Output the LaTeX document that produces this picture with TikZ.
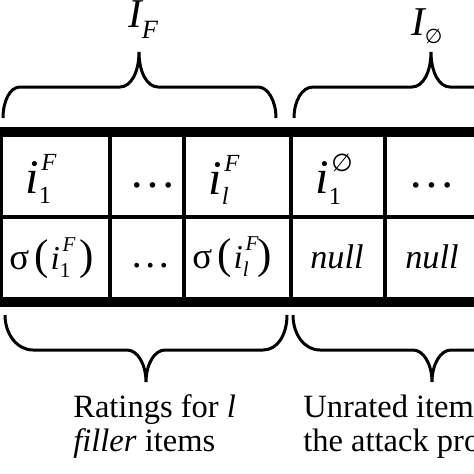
\documentclass[tikz,border=0pt]{standalone}
\usepackage{fontspec}
\setmainfont{Liberation Serif}
\newfontfamily\nullsetfont{DejaVu Sans}
\usepackage{tikz}

\newcommand{\fs}[1]{\fontsize{#1}{1.15\dimexpr#1\relax}\selectfont}
% item symbol: size of i, size of scripts, raise, lower, sup, sub
\newcommand{\isym}[6]{{\fs{#1}\textit{i}}\makebox[0pt][l]{\kern1.5pt\raisebox{#3}{\fs{#2}#5}}\raisebox{-#4}{\fs{#2}#6}}
% rating symbol
\newcommand{\rsym}[1]{{\fs{21pt}σ}\kern3pt{\fs{24.5pt}(}\kern1pt\isym{19pt}{12pt}{10pt}{5pt}{\textit{F}}{#1}\kern5pt{\fs{24.5pt})}}

\begin{document}
\begin{tikzpicture}[x=0.02cm, y=-0.02cm,
  bar/.style={line width=0.2cm},
  rule/.style={line width=0.08cm},
  brc/.style={line width=0.06cm},
  lbl/.style={inner sep=0pt, anchor=base west},
  note/.style={lbl, align=left, font=\fontsize{18.5pt}{19pt}\selectfont}]
\useasboundingbox (0,0) rectangle (474,474);
\clip (0,0) rectangle (474,474);
% table
\draw[bar] (-10,132) -- (490,132);
\draw[bar] (-10,302) -- (490,302);
\draw[rule] (-10,217) -- (490,217);
\foreach \x in {1.5,110,184,290.5,385} \draw[rule] (\x,132) -- (\x,302);
% first row
\node[lbl] (iF1) at (25,193) {\isym{27.5pt}{14pt}{13pt}{5.7pt}{\textit{F}}{1}};
\node[lbl, anchor=base] (dots1) at (153,187) {\fs{26.7pt}…};
\node[lbl] (iFl) at (208,194) {\isym{27.5pt}{14pt}{13pt}{5.7pt}{\textit{F}}{\textit{l}}};
\node[lbl] (iE1) at (315,193) {\isym{27.5pt}{14pt}{12pt}{6.8pt}{\nullsetfont ∅}{1}};
\node[lbl, anchor=base] (dots2) at (432,187) {\fs{26.7pt}…};
% second row
\node[lbl] (sF1) at (9,269) {\rsym{1}};
\node[lbl, anchor=base] (dots3) at (150.5,267) {\fs{23pt}…};
\node[lbl] (sFl) at (192,268) {\rsym{\textit{l}}};
\node[lbl] (null1) at (310,268) {\fs{19.5pt}\textit{null}};
\node[lbl] (null2) at (405,268) {\fs{19.5pt}\textit{null}};
% braces above
\draw[brc] (3,118) .. controls (3,101) and (10,87) .. (20,87) -- (120,87)
  .. controls (131,87) and (139,72) .. (139,52) .. controls (139,72) and (147,87) .. (158,87)
  -- (258,87) .. controls (268,87) and (276,101) .. (276,118);
\draw[brc] (294,118) .. controls (294,101) and (302,87) .. (313,87) -- (412,87)
  .. controls (423,87) and (431,72) .. (431,52) .. controls (431,72) and (439,87) .. (450,87)
  -- (490,87);
\node[lbl] (lblF) at (128,27) {\fs{23.3pt}{\itshape I}\raisebox{-6.3pt}{\fs{15pt}\textit{F}}};
\node[lbl] (lblE) at (411,35) {\fs{23.3pt}{\itshape I}\raisebox{-5pt}{\fs{11.5pt}\nullsetfont ∅}};
% braces below
\draw[brc] (5,315) .. controls (5,334) and (17,350) .. (33,350) -- (127,350)
  .. controls (138,350) and (146,365) .. (146,382) .. controls (146,365) and (154,350) .. (165,350)
  -- (263,350) .. controls (278,350) and (287,334) .. (287,315);
\draw[brc] (293,315) .. controls (293,334) and (304,350) .. (320,350) -- (413,350)
  .. controls (424,350) and (432,365) .. (432,382) .. controls (432,365) and (440,350) .. (451,350)
  -- (490,350);
\node[note] (txtF) at (73,451) {Ratings for \textit{l}\\\textit{filler} items};
\node[note] (txtE) at (303,451) {Unrated items in\\the attack profile};
\end{tikzpicture}
\end{document}
